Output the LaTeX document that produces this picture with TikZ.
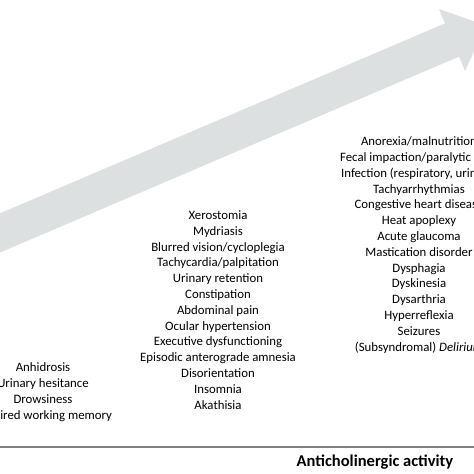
\documentclass[tikz,border=0pt]{standalone}
\usepackage{fontspec}
\setmainfont{Carlito}
\definecolor{arrowgray}{RGB}{221,224,225}
\definecolor{axisgray}{RGB}{128,128,128}
\tikzset{
  effects/.style={align=center, inner sep=0pt, font=\fontsize{12.8}{15.8}\selectfont},
}
\begin{document}
\begin{tikzpicture}[x=1pt, y=-1pt]
            \useasboundingbox (0,0) rectangle (474,474);
            \clip (0,0) rectangle (474,474);
            \fill[arrowgray] (-47,233.4) -- (444.9,23.4) -- (439,9) -- (486,25.5) -- (465,71) -- (459.1,56.6) -- (-33,266.6) -- cycle;
            \draw[axisgray, line width=1.2pt] (0,447) -- (474,447);
            \node[effects] (low) at (43,392) {Anhidrosis\\Urinary hesitance\\Drowsiness\\Impaired working memory};
            \node[effects] (medium) at (218,310) {Xerostomia\\Mydriasis\\Blurred vision/cycloplegia\\Tachycardia/palpitation\\Urinary retention\\Constipation\\Abdominal pain\\Ocular hypertension\\Executive dysfunctioning\\Episodic anterograde amnesia\\Disorientation\\Insomnia\\Akathisia};
            \node[effects] (high) at (419,245) {Anorexia/malnutrition\\Fecal impaction/paralytic ileus\\Infection (respiratory, urinary)\\Tachyarrhythmias\\Congestive heart disease\\Heat apoplexy\\Acute glaucoma\\Mastication disorder\\Dysphagia\\Dyskinesia\\Dysarthria\\Hyperreflexia\\Seizures\\(Subsyndromal) \textit{Delirium}};
            \node[font=\fontsize{16.5}{19}\selectfont\bfseries, inner sep=0pt] (axis) at (375,462.5) {Anticholinergic activity};
        \end{tikzpicture}
\end{document}
